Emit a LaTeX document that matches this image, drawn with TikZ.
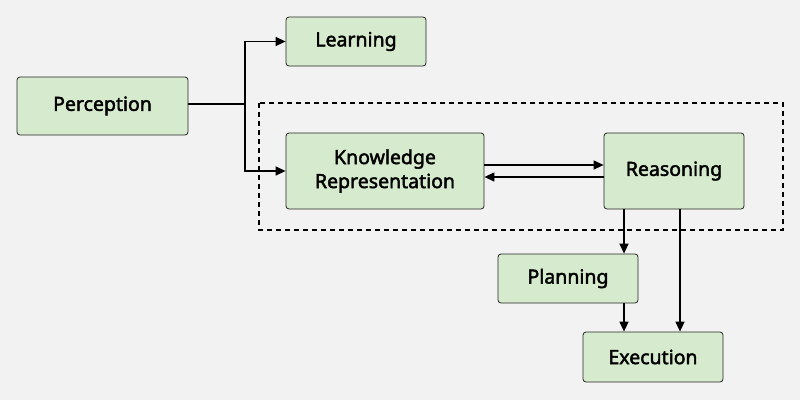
\documentclass[tikz,border=0pt]{standalone}
\usepackage{fontspec}
\setmainfont{Noto Sans}[AutoFakeBold=2.2]
\usetikzlibrary{arrows.meta}
\begin{document}
\begin{tikzpicture}[x=1pt,y=-1pt,
  box/.style={draw=black!85,rounded corners=3pt,line width=0.8pt,
    font=\fontsize{19.5}{24}\selectfont\bfseries,align=center,inner sep=0pt},
  arr/.style={-{Triangle[length=10pt,width=9pt]},line width=1.3pt}]
\fill[gray!10] (0,0) rectangle (800,400);
\useasboundingbox (0,0) rectangle (800,400);
\definecolor{bx}{HTML}{D6EACD}
\tikzset{box/.append style={fill=bx}}
\draw[dashed,line width=1.2pt,dash pattern=on 5pt off 4pt] (259,103) rectangle (783,230);
\node[box,minimum width=171pt,minimum height=58pt] (per) at (102.5,106) {Perception};
\node[box,minimum width=140pt,minimum height=49pt] (lea) at (356,41.5) {Learning};
\node[box,minimum width=198pt,minimum height=76pt] (kno) at (385,171) {Knowledge\\Representation};
\node[box,minimum width=140pt,minimum height=76pt] (rea) at (674,171) {Reasoning};
\node[box,minimum width=140pt,minimum height=49pt] (pla) at (568,278.5) {Planning};
\node[box,minimum width=140pt,minimum height=50pt] (exe) at (653,357) {Execution};
\coordinate (j) at (245,104);
\draw[line width=1.3pt] (per.east |- j) -- (j);
\draw[arr] (j) |- (lea.west);
\draw[arr] (j) |- (kno.west);
\draw[arr] (kno.east |- 0,165) -- (rea.west |- 0,165);
\draw[arr] (rea.west |- 0,177) -- (kno.east |- 0,177);
\draw[arr] (rea.south -| 624,0) -- (pla.north -| 624,0);
\draw[arr] (pla.south -| 624,0) -- (exe.north -| 624,0);
\draw[arr] (rea.south -| 680,0) -- (exe.north -| 680,0);
\end{tikzpicture}
\end{document}
